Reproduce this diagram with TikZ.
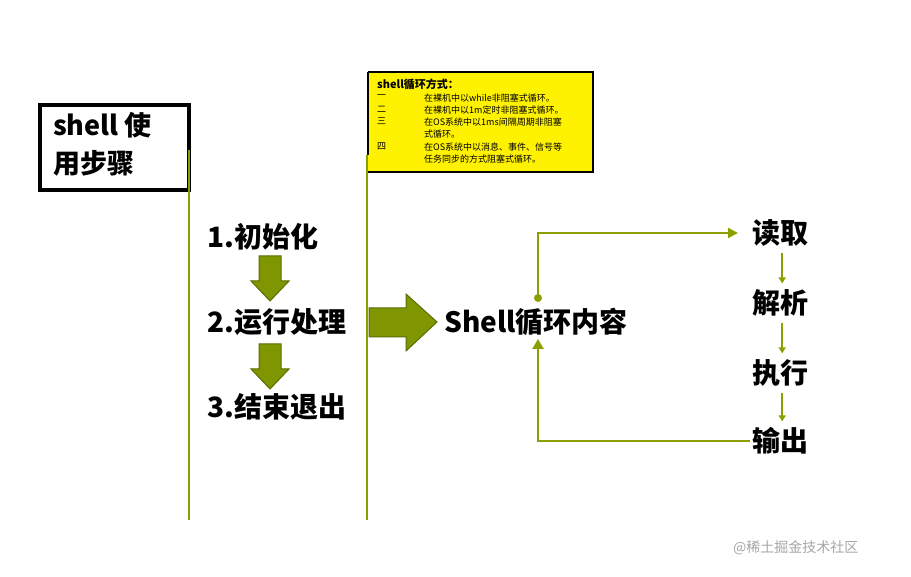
\documentclass[tikz,border=0pt]{standalone}
\usepackage{fontspec}
\setmainfont{Noto Sans CJK SC}
\usetikzlibrary{arrows.meta,calc}
\definecolor{olive}{RGB}{140,158,0}
\definecolor{arrfill}{RGB}{128,150,0}
\definecolor{arrdraw}{RGB}{90,110,0}
\tikzset{
  vline/.style={olive,line width=1.8pt},
  big/.style={font=\fontsize{28}{32}\selectfont\bfseries,anchor=west,inner sep=0},
  blockarr/.style={fill=arrfill,draw=arrdraw,line width=1pt,line join=miter},
  conn/.style={olive,line width=2pt},
  small/.style={olive,line width=1.5pt,-{Triangle[length=6pt,width=7pt]}}
}
\begin{document}
\begin{tikzpicture}[x=1pt,y=-1pt]
\useasboundingbox (0,0) rectangle (911,577);
\fill[white] (0,0) rectangle (911,577);
% left box
\draw[line width=3.5pt] (40,105) rectangle (189,190);
\node[anchor=north west,align=left,inner sep=0,font=\fontsize{27}{38}\selectfont\bfseries] (title) at (53,112) {shell 使\\ 用步骤};
\draw[vline] (189,150) -- (189,520);
% yellow box
\fill[yellow] (368,72) rectangle (593,172);
\draw[line width=2.5pt] (368,72) -- (593,72) -- (593,172) -- (368,172);
\draw[line width=2.5pt] (368,72) -- (368,155);
\draw[vline] (367,155) -- (367,520);
\node[anchor=north west,inner sep=0,font=\fontsize{11}{13}\selectfont\bfseries] (yt) at (377,79) {shell循环方式：};
\begin{scope}[font=\fontsize{9}{11.5}\selectfont]
\node[anchor=north west,inner sep=0] (n1) at (377,94) {一};
\node[anchor=north west,inner sep=0] (t1) at (424,94) {在裸机中以while非阻塞式循环。};
\node[anchor=north west,inner sep=0] (n2) at (377,106) {二};
\node[anchor=north west,inner sep=0] (t2) at (424,106) {在裸机中以1m定时非阻塞式循环。};
\node[anchor=north west,inner sep=0] (n3) at (377,118) {三};
\node[anchor=north west,inner sep=0,align=left] (t3) at (424,118) {在OS系统中以1ms间隔周期非阻塞\\式循环。};
\node[anchor=north west,inner sep=0] (n4) at (377,143) {四};
\node[anchor=north west,inner sep=0,align=left] (t4) at (424,143) {在OS系统中以消息、事件、信号等\\任务同步的方式阻塞式循环。};
\end{scope}
% steps
\node[big] (s1) at (207,237) {1.初始化};
\node[big] (s2) at (207,322) {2.运行处理};
\node[big] (s3) at (207,407) {3.结束退出};
\draw[blockarr] (259,256) -- (281,256) -- (281,281) -- (289,281) -- (270,301) -- (251,281) -- (259,281) -- cycle;
\draw[blockarr] (259,344) -- (281,344) -- (281,369) -- (289,369) -- (270,389) -- (251,369) -- (259,369) -- cycle;
% big arrow
\draw[blockarr] (369,308) -- (406,308) -- (406,294) -- (437,322) -- (406,351) -- (406,337) -- (369,337) -- cycle;
\node[big] (shell) at (444,322) {Shell循环内容};
% right column
\node[big] (r1) at (752,233) {读取};
\node[big] (r2) at (752,303) {解析};
\node[big] (r3) at (752,373) {执行};
\node[big] (r4) at (752,441) {输出};
\draw[small] ($(r1.south)+(2,6)$) -- ($(r2.north)+(2,-6)$);
\draw[small] ($(r2.south)+(2,6)$) -- ($(r3.north)+(2,-6)$);
\draw[small] ($(r3.south)+(2,6)$) -- ($(r4.north)+(2,-6)$);
\coordinate (dot) at (538,298);
\fill[olive] (dot) circle (4pt);
\draw[conn,-{Triangle[length=10pt,width=10pt]}] (dot) |- ($(r1.west)+(-14,0)$);
\draw[conn,-{Triangle[length=10pt,width=11pt]}] ($(r4.west)+(-2,0)$) -| ($(shell.south -| dot)+(0,3)$);
% watermark
\node[anchor=west,inner sep=0,text=gray!70,font=\fontsize{14}{16}\selectfont] (wm) at (733,548) {@稀土掘金技术社区};
\end{tikzpicture}
\end{document}
